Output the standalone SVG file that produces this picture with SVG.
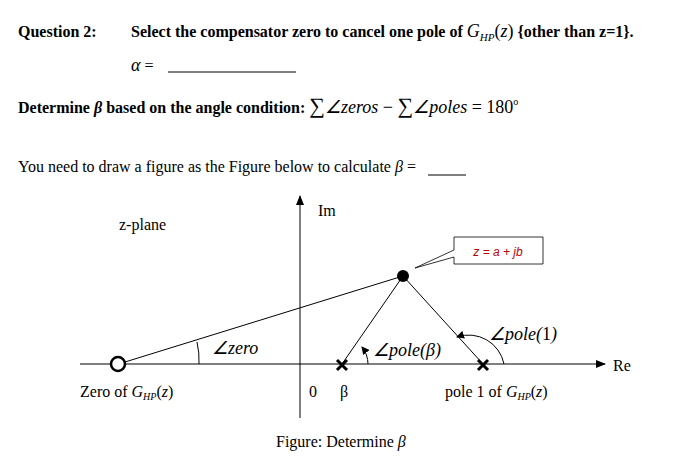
<svg xmlns="http://www.w3.org/2000/svg" width="681" height="462" viewBox="0 0 681 462">
<style>
.b{font-family:"Liberation Serif",serif;font-weight:bold;font-size:16px}
.t{font-family:"Liberation Serif",serif;font-size:16px}
.i{font-family:"Liberation Serif",serif;font-style:italic;font-size:18px}
.l{stroke:#000;stroke-width:1;fill:none}
</style>
<defs><marker id="a" markerWidth="10" markerHeight="8" refX="9" refY="4" orient="auto" markerUnits="userSpaceOnUse"><path d="M0,0L10,4L0,8z"/></marker>
<marker id="s" markerWidth="8" markerHeight="8" refX="7" refY="4" orient="auto" markerUnits="userSpaceOnUse"><path d="M0,0L8,4L0,8z"/></marker></defs>
<rect width="681" height="462" fill="#fff"/>
<g id="text">
<text x="18" y="37" class="b">Question 2:</text>
<text x="131" y="37" class="b">Select the compensator zero to cancel one pole of <tspan font-style="italic" font-weight="normal" font-size="18">G</tspan><tspan font-style="italic" font-weight="normal" font-size="11" dy="4">HP</tspan><tspan font-weight="normal" font-size="18" dy="-4">(</tspan><tspan font-style="italic" font-weight="normal" font-size="18">z</tspan><tspan font-weight="normal" font-size="18">)</tspan> {other than z=1}.</text>
<text x="131" y="71" class="t"><tspan font-style="italic" font-size="18">α</tspan> =</text>
<line x1="168" y1="72" x2="296" y2="72" class="l"/>
<text x="18" y="113" class="b">Determine <tspan font-style="italic">β</tspan> based on the angle condition: <tspan font-weight="normal" font-size="22">∑</tspan><tspan font-weight="normal" font-style="italic" font-size="18">∠zeros</tspan><tspan font-weight="normal" font-size="18"> − </tspan><tspan font-weight="normal" font-size="22">∑</tspan><tspan font-weight="normal" font-style="italic" font-size="18">∠poles</tspan><tspan font-weight="normal" font-size="18"> = 180</tspan><tspan font-weight="normal" font-size="10" dy="-8">o</tspan></text>
<text x="18" y="172" class="t" font-size="17">You need to draw a figure as the Figure below to calculate <tspan font-style="italic">β</tspan> =</text>
<line x1="428" y1="175" x2="466" y2="175" class="l"/>
<text x="119" y="230" class="t">z-plane</text>
<text x="318" y="216" class="t">Im</text>
<text x="613" y="371" class="t">Re</text>
<text x="80" y="397" class="t">Zero of <tspan font-style="italic">G</tspan><tspan font-style="italic" font-size="10" dy="3">HP</tspan><tspan dy="-3">(</tspan><tspan font-style="italic">z</tspan>)</text>
<text x="309" y="397" class="t">0</text>
<text x="340" y="397" class="t">β</text>
<text x="445" y="397" class="t">pole 1 of <tspan font-style="italic">G</tspan><tspan font-style="italic" font-size="10" dy="3">HP</tspan><tspan dy="-3">(</tspan><tspan font-style="italic">z</tspan>)</text>
<text x="276" y="447" class="t">Figure: Determine <tspan font-style="italic">β</tspan></text>
<text x="212" y="354" class="i">∠zero</text>
<text x="373" y="356" class="i">∠pole(<tspan>β</tspan>)</text>
<text x="489" y="340" class="i">∠pole(<tspan font-style="normal">1</tspan>)</text>
</g>
<g id="connectors">
<line x1="80" y1="364" x2="605" y2="364" class="l" marker-end="url(#a)"/>
<line x1="300" y1="418" x2="300" y2="196" class="l" marker-end="url(#a)"/>
<line x1="125" y1="362" x2="403" y2="276" class="l"/>
<line x1="342" y1="364" x2="403" y2="276" class="l"/>
<line x1="483" y1="364" x2="403" y2="276" class="l"/>
<path d="M197,342 A80,80 0 0 1 199,364" class="l"/>
<path d="M368,364 A28,28 0 0 0 362,347" class="l" marker-end="url(#s)"/>
<path d="M504,364 A36,36 0 0 0 457,337" class="l" marker-end="url(#s)"/>
</g>
<g id="zero"><circle cx="118" cy="364" r="7" fill="#fff" stroke="#000" stroke-width="2.5"/></g>
<g id="poleb"><path d="M337,360 L347,370 M347,360 L337,370" stroke="#000" stroke-width="3"/></g>
<g id="pole1"><path d="M478,360 L488,370 M488,360 L478,370" stroke="#000" stroke-width="3"/></g>
<g id="point"><circle cx="403" cy="276" r="6" fill="#000"/></g>
<g id="callout">
<path d="M454,250 L454,237 L543,237 L543,264 L454,264 L454,257 L415,268 Z" fill="#fff" stroke="#000" stroke-width="0.8"/>
<text x="498" y="256" text-anchor="middle" font-family="Liberation Sans,sans-serif" font-style="italic" font-size="12" fill="#c00000">z = a + jb</text>
</g>
</svg>
